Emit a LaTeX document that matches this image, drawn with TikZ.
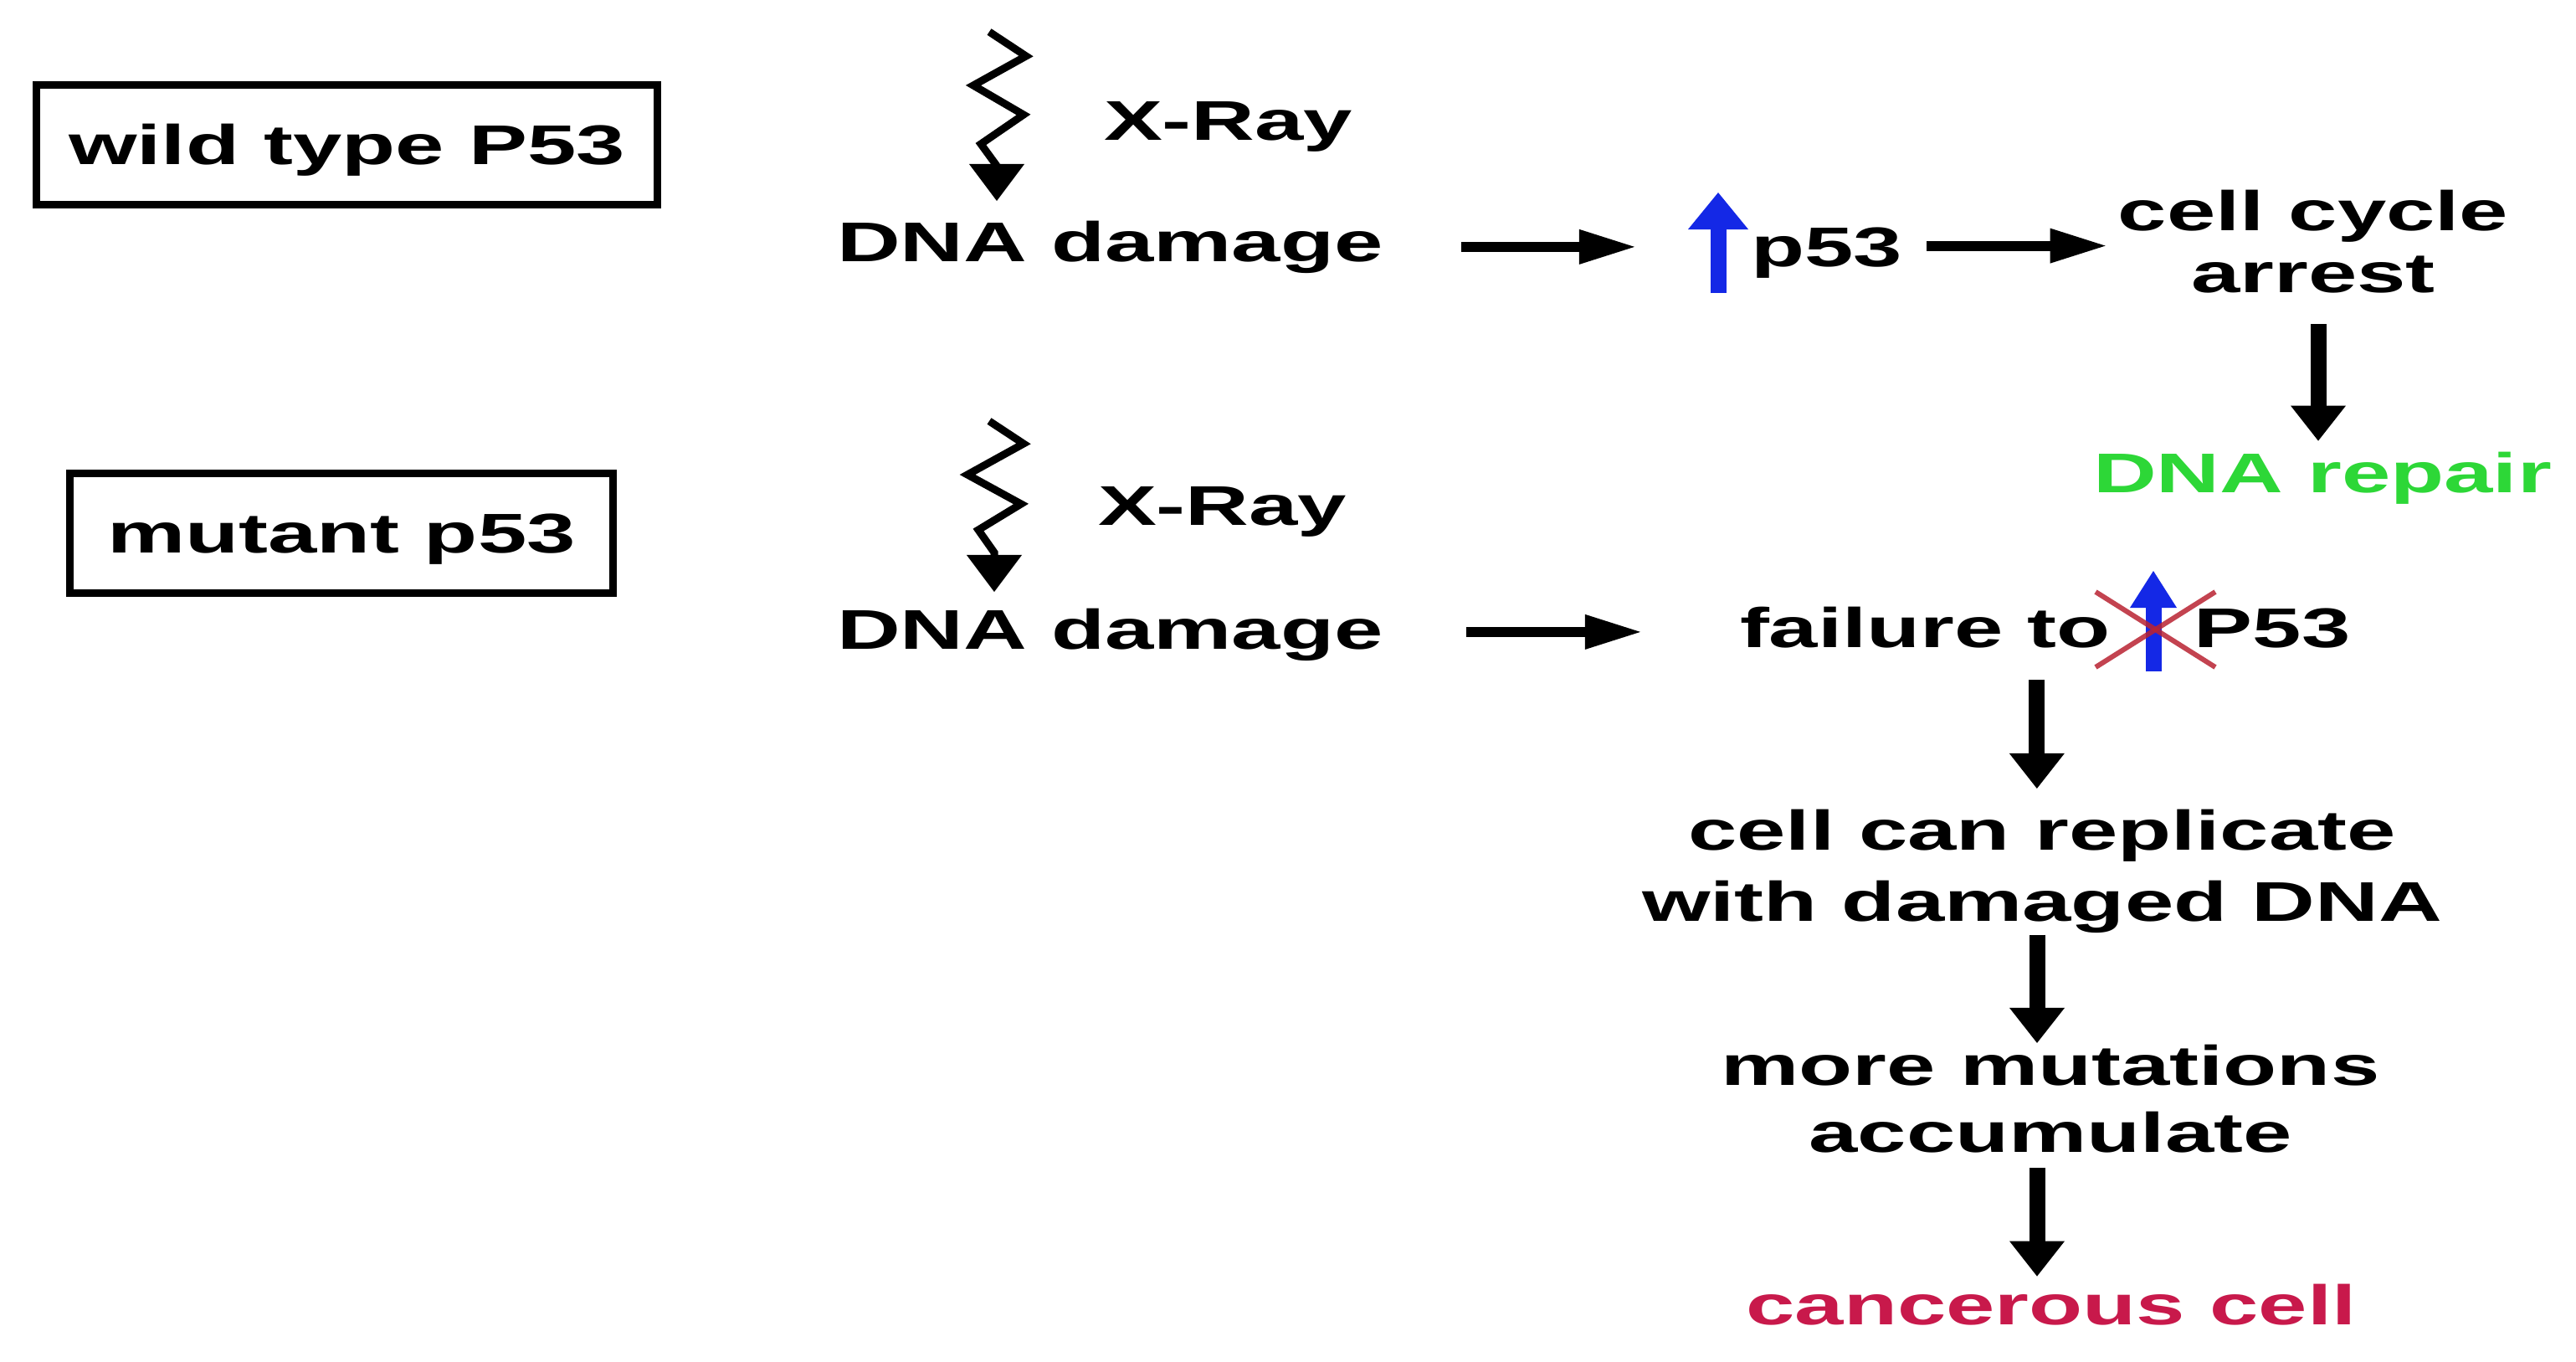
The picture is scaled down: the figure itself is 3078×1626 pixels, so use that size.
\documentclass[tikz,border=0pt]{standalone}
\usepackage{fontspec}
\newfontfamily\widefont{Liberation Sans}[FakeStretch=1.57]
\usetikzlibrary{arrows.meta,calc}
\definecolor{upblue}{RGB}{20,40,230}
\definecolor{repgreen}{RGB}{45,215,55}
\definecolor{cancred}{RGB}{200,25,75}
\definecolor{xred}{RGB}{185,35,50}
\begin{document}
\begin{tikzpicture}[x=0.01cm,y=-0.01cm,
  txt/.style={inner sep=0pt, outer sep=0pt, font=\widefont\bfseries\fontsize{19}{22.8}\selectfont},
  boxst/.style={txt, draw, line width=0.09cm, text height=13.6pt, text depth=0pt, minimum height=1.43cm},
  harr/.style={line width=0.12cm, -{Triangle[length=0.66cm,width=0.42cm,line width=0pt]}},
  varr/.style={line width=0.19cm, -{Triangle[length=0.42cm,width=0.66cm,line width=0pt]}},
  bluearr/.style={line width=0.19cm, draw=upblue, -{Triangle[length=0.44cm,width=#1,line width=0pt]}},
  zig/.style={line width=0.09cm, line join=miter, -{Triangle[length=0.44cm,width=0.66cm,line width=0pt]}},
  xline/.style={line width=0.06cm, draw=xred, opacity=0.85}
]
\useasboundingbox (0,0) rectangle (3078,1626);
\fill[white] (0,0) rectangle (3078,1626);

% left boxes
\node[boxst, minimum width=7.42cm] (wt) at (414.5,173) {wild type P53};
\node[boxst, minimum width=6.49cm] (mt) at (408,637) {mutant p53};

% wild type row
\node[txt, anchor=base west] (xr1) at (1319,167) {X-Ray};
\node[txt, anchor=base west] (dd1) at (1000,312) {DNA damage};
\node[txt, anchor=base west] (p53) at (2092,318) {p53};
\node[txt, anchor=base, font=\widefont\bfseries\fontsize{19}{21.3}\selectfont] (cca) at (2764,275)
  {\begin{tabular}[t]{@{}c@{}}cell cycle\\arrest\end{tabular}};
\node[txt, anchor=base, text=repgreen] (rep) at (2775,588) {DNA repair};

% mutant row
\node[txt, anchor=base west] (xr2) at (1312,627) {X-Ray};
\node[txt, anchor=base west] (dd2) at (1000,775) {DNA damage};
\node[txt, anchor=base west] (fail) at (2079,773) {failure to\hspace{1.0cm}P53};
\node[txt, anchor=base, font=\widefont\bfseries\fontsize{19}{24.4}\selectfont] (ccr) at (2440,1015)
  {\begin{tabular}[t]{@{}c@{}}cell can replicate\\with damaged DNA\end{tabular}};
\node[txt, anchor=base, font=\widefont\bfseries\fontsize{19}{22.8}\selectfont] (mma) at (2450,1296)
  {\begin{tabular}[t]{@{}c@{}}more mutations\\accumulate\end{tabular}};
\node[txt, anchor=base, text=cancred] (canc) at (2451,1582) {cancerous cell};

% zigzag X-ray arrows
\coordinate (z1) at (1182,38);
\draw[zig] (z1) -- ++(44,29) -- ++(-63,35) -- ++(60,35) -- ++(-51,35) -- ++(19,26)
  -- ($(dd1.base west)+(191,-72)$);
\coordinate (z2) at (1182,503);
\draw[zig] (z2) -- ++(41,27) -- ++(-67,37) -- ++(64,35) -- ++(-51,31) -- ++(19,27)
  -- ($(dd2.base west)+(188,-68)$);

% horizontal arrows
\draw[harr] ($(dd1.east)+(93,0)$) -- ($(dd1.east -| p53.west)+(-139,0)$);
\draw[harr] ($(p53.east)+(29,-8)$) -- ($(p53.east -| cca.west)+(-15,-8)$);
\draw[harr] ($(dd2.east)+(99,-3)$) -- ($(dd2.east -| fail.west)+(-119,-3)$);

% vertical arrows
\draw[varr] ($(cca.south)+(6,15)$) -- ($(cca.south |- rep.north)+(6,-13)$);
\draw[varr] ($(fail.south)+(-10,38)$) -- ($(fail.south |- ccr.north)+(-10,-13)$);
\draw[varr] ($(ccr.south)+(-6,-10)$) -- ($(ccr.south |- mma.north)+(-6,6)$);
\draw[varr] ($(mma.south)+(-16,-5)$) -- ($(mma.south |- canc.north)+(-16,-9)$);

% blue up arrows
\draw[bluearr=0.72cm] ($(p53.base west)+(-39,32)$) -- ++(0,-120);
\draw[bluearr=0.56cm] ($(fail.base west)+(494,29)$) -- ++(0,-120);

% red cross over the second up arrow
\draw[xline] ($(fail.base west)+(425,-66)$) -- ++(143,90);
\draw[xline] ($(fail.base west)+(568,-66)$) -- ++(-143,90);
\end{tikzpicture}
\end{document}
